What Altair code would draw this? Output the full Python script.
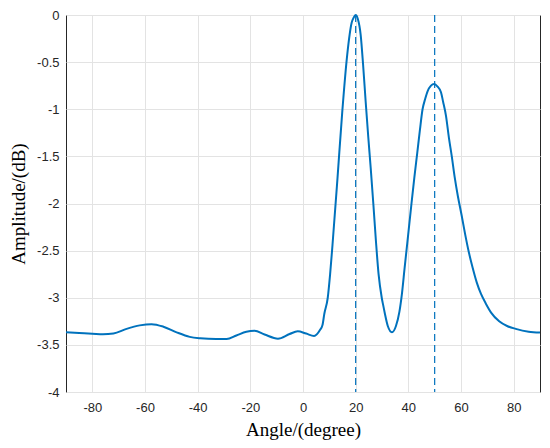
import altair as alt
import pandas as pd

angle = [-90, -85, -80, -76, -72, -67, -62, -57.5, -53, -48, -43, -39, -33, -29,
         -25.3, -21.5, -18.4, -14.6, -9.5, -5.1, -2, 1.2, 4.2, 6.5, 7.4, 8.1, 9.4,
         10.3, 11.2, 13.1, 14.9, 16.8, 18.5, 19.2, 20, 20.8, 21.9, 22.8, 23.8, 24.8,
         25.7, 26.7, 27.7, 28.7, 29.9, 30.6, 31.1, 32.2, 33.8, 35.3, 36.6, 37.6,
         38.6, 39.6, 41.2, 42.3, 43.4, 44.4, 45.4, 46.3, 47.3, 48.6, 49.8, 51.1,
         52.4, 53.2, 54.3, 55.4, 56.5, 57.6, 58.8, 60.2, 61.6, 63.0, 64.4, 66.0,
         67.6, 69.4, 71.5, 74.5, 77.5, 80.8, 85.7, 90]
amplitude = [-3.367, -3.374, -3.381, -3.388, -3.38, -3.33, -3.293, -3.28, -3.307,
             -3.367, -3.415, -3.43, -3.438, -3.438, -3.40, -3.36, -3.35, -3.39,
             -3.434, -3.385, -3.356, -3.38, -3.405, -3.34, -3.29, -3.17, -3.0,
             -2.75, -2.44, -1.73, -1.03, -0.42, -0.08, -0.03, 0.0, -0.04, -0.21,
             -0.52, -0.92, -1.30, -1.62, -2.0, -2.4, -2.75, -3.0, -3.1, -3.17,
             -3.30, -3.367, -3.30, -3.15, -2.95, -2.68, -2.42, -2.0, -1.72, -1.46,
             -1.22, -1.0, -0.90, -0.81, -0.75, -0.732, -0.76, -0.82, -0.92, -1.07,
             -1.30, -1.50, -1.72, -1.92, -2.12, -2.33, -2.52, -2.68, -2.84, -2.96,
             -3.06, -3.16, -3.25, -3.30, -3.33, -3.36, -3.37]
peaks = [20, 50]
x_ticks = [-80, -60, -40, -20, 0, 20, 40, 60, 80]
y_ticks = [0, -0.5, -1, -1.5, -2, -2.5, -3, -3.5, -4]

df = pd.DataFrame({"angle": angle, "amp": amplitude})
pk = pd.DataFrame({"angle": peaks})

blue = "#0072BD"

xenc = alt.X("angle:Q", scale=alt.Scale(domain=[-90, 90], nice=False),
             axis=alt.Axis(values=x_ticks, title="Angle/(degree)",
                           labelExpr="'' + datum.value"))
yenc = alt.Y("amp:Q", scale=alt.Scale(domain=[-4, 0], nice=False),
             axis=alt.Axis(values=y_ticks, title="Amplitude/(dB)",
                           labelExpr="'' + datum.value"))

line = alt.Chart(df).mark_line(color=blue, strokeWidth=2, interpolate="monotone").encode(
    x=xenc, y=yenc)

rules = alt.Chart(pk).mark_rule(color=blue, strokeWidth=1.2, strokeDash=[7, 4]).encode(
    x=alt.X("angle:Q"))

chart = alt.layer(rules, line).properties(
    width=474, height=377,
    autosize=alt.AutoSizeParams(type="none"),
    padding={"left": 58, "top": 7, "right": 1, "bottom": 52},
).configure_view(
    stroke="#262626", strokeWidth=1
).configure_axis(
    grid=True, gridColor="#e3e3e3", gridWidth=1,
    domain=False, ticks=False,
    labelFont="Liberation Sans", labelFontSize=13, labelColor="#262626",
    titleFont="Liberation Serif", titleFontSize=19, titleFontWeight="normal",
    titleColor="#000000",
).configure_axisX(
    labelPadding=9, titlePadding=6
).configure_axisY(
    labelPadding=7, titlePadding=8
)

chart.save("out.html", embed_options={"renderer": "svg", "actions": False})
